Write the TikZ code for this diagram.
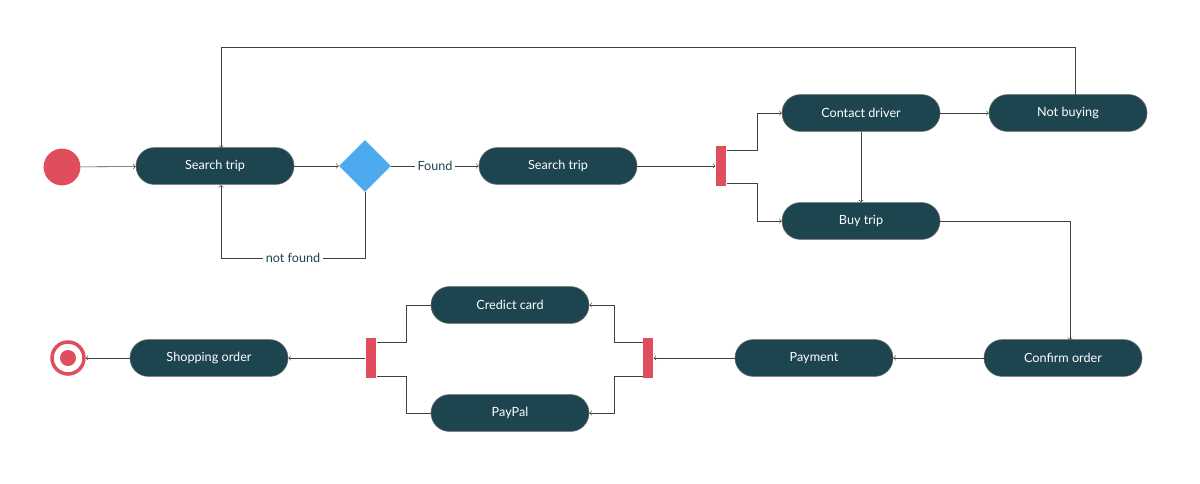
\documentclass[tikz,border=0pt]{standalone}
\usepackage{fontspec}
\setmainfont{Lato}
\usetikzlibrary{shapes.geometric, arrows, positioning}
\definecolor{teal}{HTML}{1D4550}
\definecolor{rosso}{HTML}{E04E5E}
\definecolor{azure}{HTML}{4DAAEE}

\begin{document}
\begin{tikzpicture}[x=0.025cm, y=-0.025cm]
		\tikzstyle{Node} = [rectangle, rounded corners=0.46cm, minimum width=3.95cm, minimum height=0.92cm, text centered, draw=black!60, fill=teal, text=white, font=\fontsize{9}{11}\selectfont]
		\tikzstyle{Bar} = [rectangle, minimum width=0.27cm, minimum height=1.02cm, fill=rosso, inner sep=0]
		\tikzstyle{Label} = [fill=white, text=teal, font=\fontsize{9}{11}\selectfont, inner sep=2pt]
		\tikzstyle{arrow} = [black!75, ->, >=to]
		\useasboundingbox (0,0) rectangle (1200,483);

		\node (start) [circle, fill=rosso, minimum size=0.92cm, inner sep=0] at (62,167) {};
		\node (search1) [Node] at (215,166) {Search trip};
		\node (choice) [diamond, fill=azure, minimum size=1.3cm, inner sep=0] at (365,166) {};
		\node (search2) [Node] at (558,166) {Search trip};
		\node (fork1) [Bar] at (721,166) {};
		\node (contact) [Node] at (861,113) {Contact driver};
		\node (notbuy) [Node] at (1068,113) {Not buying};
		\node (buy) [Node] at (861,221) {Buy trip};
		\node (confirm) [Node] at (1063,358) {Confirm order};
		\node (pay) [Node] at (814,358) {Payment};
		\node (fork2) [Bar] at (648,358) {};
		\node (card) [Node] at (510,305) {Credict card};
		\node (paypal) [Node] at (510,413) {PayPal};
		\node (join) [Bar] at (371,358) {};
		\node (shop) [Node] at (209,358) {Shopping order};
		\node (stop) [circle, draw=rosso, line width=2.5pt, minimum size=0.8cm, inner sep=0] at (68,358) {};
		\node [circle, fill=rosso, minimum size=0.4cm, inner sep=0] at (stop) {};

		\draw [arrow] (start) -- (search1);
		\draw [arrow] (search1) -- (choice);
		\draw [arrow] (choice) -- node [Label] {Found} (search2);
		\draw [arrow] (choice.south) |- node [Label, pos=0.75] {not found} (221,258) -- (221,185);
		\draw [arrow] (search2) -- (fork1);
		\draw [arrow] (727,150) -- (757,150) |- (contact.west);
		\draw [arrow] (727,183) -- (757,183) |- (buy.west);
		\draw [arrow] (contact) -- (notbuy);
		\draw [arrow] (contact) -- (buy);
		\draw [arrow] (1075,95) -- (1075,47) -- (221,47) -- (221,148);
		\draw [arrow] (buy.east) -| (1070,340);
		\draw [arrow] (confirm) -- (pay);
		\draw [arrow] (pay) -- (fork2);
		\draw [arrow] (643,342) -- (614,342) |- (card.east);
		\draw [arrow] (643,376) -- (614,376) |- (paypal.east);
		\draw [black!75] (card.west) -- (406,305) |- (377,342);
		\draw [black!75] (paypal.west) -- (406,413) |- (377,376);
		\draw [arrow] (join) -- (shop);
		\draw [arrow] (shop) -- (stop);
\end{tikzpicture}
\end{document}
